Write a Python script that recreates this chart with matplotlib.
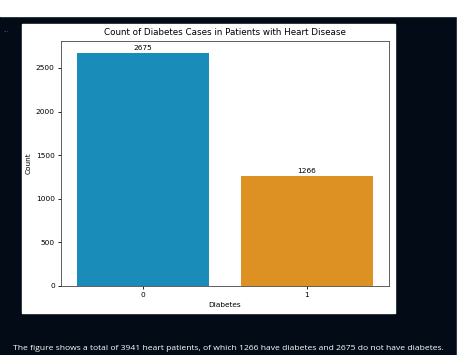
import matplotlib
matplotlib.use("Agg")
import matplotlib.pyplot as plt
from matplotlib.patches import Rectangle

categories = ["0", "1"]
counts = [2675, 1266]
bar_colors = ["#198cb9", "#de9123"]
title = "Count of Diabetes Cases in Patients with Heart Disease"
caption = ("The figure shows a total of 3941 heart patients, of which 1266 "
           "have diabetes and 2675 do not have diabetes.")

W, H = 474, 355
fig = plt.figure(figsize=(W / 100, H / 100), dpi=100)
fig.patch.set_facecolor("#030b17")

def px_rect(x0, y0, x1, y1, color):
    # rectangle given in pixel coords (origin top-left)
    fig.patches.append(Rectangle((x0 / W, 1 - y1 / H), (x1 - x0) / W, (y1 - y0) / H,
                                 transform=fig.transFigure, color=color, zorder=-1))

# screenshot surroundings
px_rect(0, 0, W, 16, "white")
px_rect(457, 0, W, H, "white")
# white figure panel
px_rect(22, 24, 395, 313, "white")

fig.text(3 / W, 1 - 30 / H, "...", color="#8a8f96", fontsize=4, va="center")

fs = 5.3
ax = fig.add_axes([61 / W, 1 - 286 / H, 328 / W, 245 / H])
ax.set_zorder(5)
x = range(len(categories))
bars = ax.bar(x, counts, width=0.8, color=bar_colors)
ax.set_xlim(-0.5, 1.5)
ax.set_ylim(0, max(counts) * 1.05)
ax.set_xticks(list(x))
ax.set_xticklabels(categories)
ax.set_yticks([0, 500, 1000, 1500, 2000, 2500])
ax.tick_params(labelsize=fs, length=2.5, width=0.6, pad=2)
for s in ax.spines.values():
    s.set_linewidth(0.6)
    s.set_color("#444444")
ax.set_xlabel("Diabetes", fontsize=fs, labelpad=3)
ax.set_ylabel("Count", fontsize=fs, labelpad=3)
ax.set_title(title, fontsize=6.3, pad=4)
ax.bar_label(bars, labels=[str(c) for c in counts], fontsize=fs, padding=1)

fig.text(13 / W, 1 - 349 / H, caption, color="white", fontsize=6.08,
         family="Open Sans", va="center", ha="left")

fig.savefig("out.png", dpi=100, facecolor=fig.get_facecolor())
